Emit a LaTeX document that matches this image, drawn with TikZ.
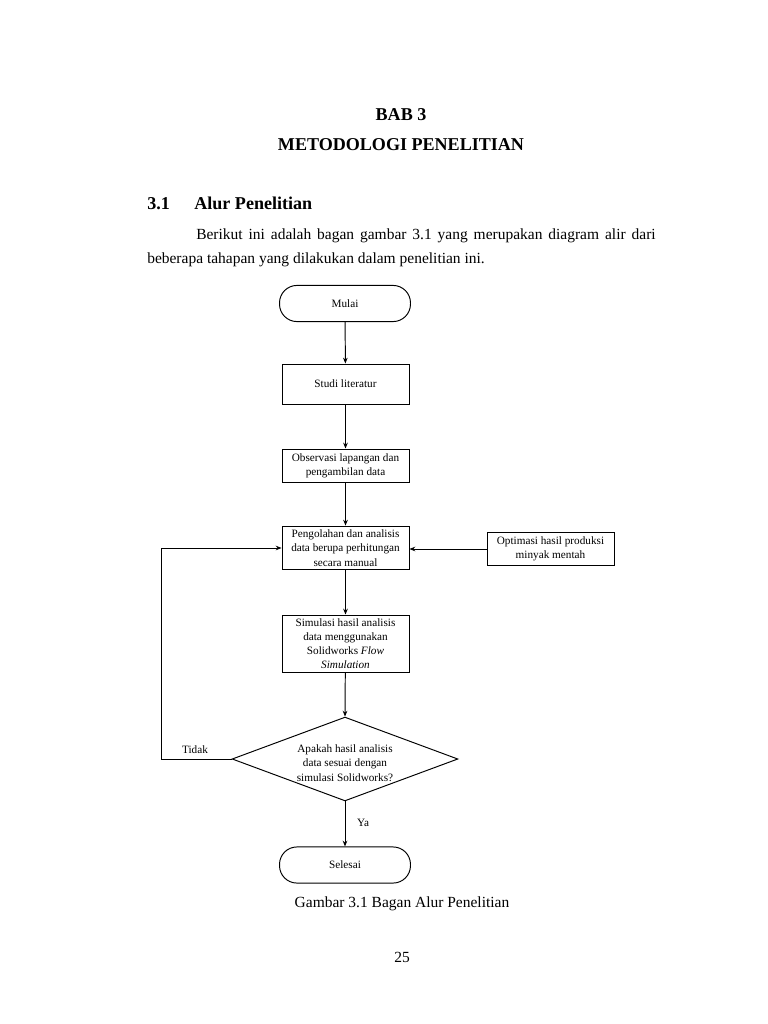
\documentclass[tikz,border=0pt]{standalone}
\usepackage{fontspec}
\setmainfont{Liberation Serif}
\usetikzlibrary{arrows.meta,shapes.geometric}
\begin{document}
\begin{tikzpicture}[x=0.775pt,y=-0.775pt,
  flow/.style={line width=0.75pt,-{Stealth[length=4.5pt,width=3.6pt]}},
  proc/.style={draw,line width=0.75pt,minimum width=98.4pt,inner sep=1pt,
    font=\fontsize{8.7}{11}\selectfont,align=center},
  term/.style={draw,line width=0.75pt,minimum width=101.5pt,minimum height=28pt,
    rounded corners=13.5pt,font=\fontsize{8.7}{11}\selectfont},
  lbl/.style={font=\fontsize{8.7}{11}\selectfont,inner sep=0pt},
  body/.style={font=\fontsize{12}{18.6}\selectfont,inner sep=0pt}]
\useasboundingbox (0,0) rectangle (768,1024);
\fill[white] (0,0) rectangle (768,1024);
% headings
\node[font=\bfseries\fontsize{14}{17}\selectfont,inner sep=0pt] (bab) at (401,115) {BAB 3};
\node[font=\bfseries\fontsize{14}{17}\selectfont,inner sep=0pt] (judul) at (401,145) {METODOLOGI PENELITIAN};
\node[font=\bfseries\fontsize{14}{17}\selectfont,inner sep=0pt,anchor=west] (sub) at (147,203) {3.1\hspace{19pt}Alur Penelitian};
\node[body,anchor=north west,text width=394pt,align=justify] (par) at (147,228)
  {\hyphenpenalty=10000\hspace*{38pt}Berikut ini adalah bagan gambar 3.1 yang merupakan diagram alir dari\linebreak beberapa tahapan yang dilakukan dalam penelitian ini.};
% flowchart
\node[term] (mulai) at (345,303.5) {Mulai};
\node[proc,minimum height=31pt] (studi) at (345.5,384) {Studi literatur};
\node[proc,minimum height=25.6pt] (obs) at (345.5,465.5) {Observasi lapangan dan\\pengambilan data};
\node[proc,minimum height=34pt] (peng) at (345.5,548) {Pengolahan dan analisis\\data berupa perhitungan\\secara manual};
\node[proc,minimum height=25.6pt] (opt) at (550.5,549) {Optimasi hasil produksi\\minyak mentah};
\node[proc,minimum height=44.2pt] (sim) at (345.5,643.5) {Simulasi hasil analisis\\data menggunakan\\Solidworks \textit{Flow}\\\textit{Simulation}};
\node[diamond,draw,line width=0.75pt,minimum width=175pt,minimum height=65pt,inner sep=0pt] (dia) at (345,759) {};
\node[lbl,align=center] (diatext) at (345,763) {Apakah hasil analisis\\data sesuai dengan\\simulasi Solidworks?};
\node[term] (sel) at (345,865) {Selesai};
\coordinate (loop) at (161,759);
% connectors
\draw[flow] (mulai) -- (studi);
\draw[flow] (studi) -- (obs);
\draw[flow] (obs) -- (peng);
\draw[flow] (peng) -- (sim);
\draw[flow] (sim) -- (dia.north);
\draw[flow] (dia.south) -- (sel);
\draw[flow] (opt.west) -- (peng.east |- opt.west);
\draw[flow] (dia.west) -- (loop) |- (peng.west);
\node[lbl] (tidak) at (195,750) {Tidak};
\node[lbl] (ya) at (363,823) {Ya};
% caption and page number
\node[body] (cap) at (402,904) {Gambar 3.1 Bagan Alur Penelitian};
\node[body] (page) at (402,957) {25};
\end{tikzpicture}
\end{document}
